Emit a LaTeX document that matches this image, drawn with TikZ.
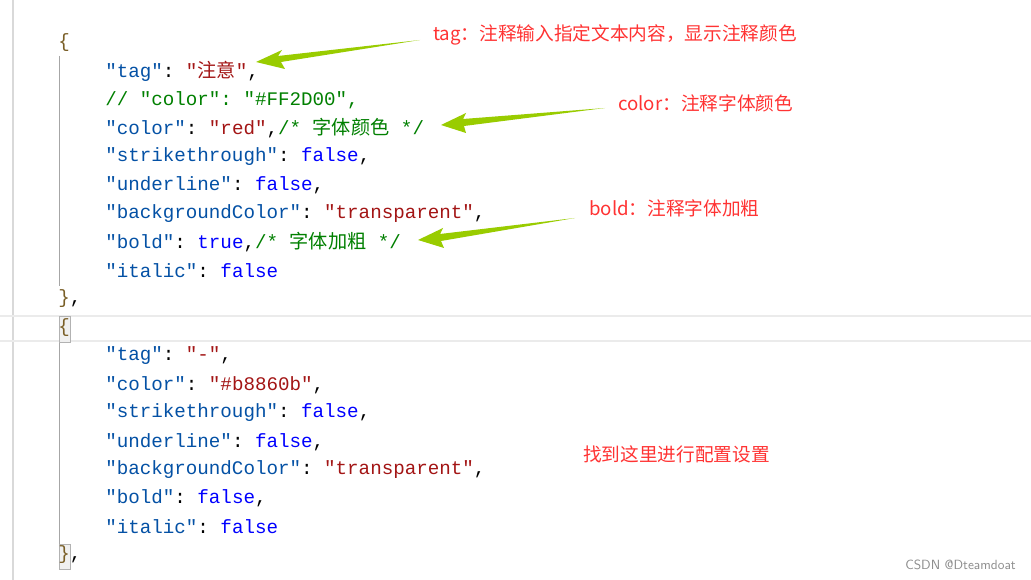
\documentclass[tikz,border=0pt]{standalone}
\usepackage{fontspec}
\setmonofont{Liberation Mono}
\newfontfamily\cjk{Noto Sans CJK SC}
\definecolor{keyblue}{HTML}{0451A5}
\definecolor{strred}{HTML}{A31515}
\definecolor{boolblue}{HTML}{0000FF}
\definecolor{cmtgreen}{HTML}{008000}
\definecolor{bracebrown}{HTML}{795E26}
\definecolor{noteRed}{HTML}{FF3333}
\definecolor{arrowgreen}{HTML}{99CC00}
\newcommand{\ky}[1]{\textcolor{keyblue}{"#1"}}
\newcommand{\st}[1]{\textcolor{strred}{"#1"}}
\newcommand{\bl}[1]{\textcolor{boolblue}{#1}}
\tikzset{
  code/.style={anchor=west, inner sep=0pt, font=\ttfamily\fontsize{14.4}{15}\selectfont},
  note/.style={anchor=west, inner sep=0pt, text=noteRed, font=\cjk\fontsize{14}{15}\selectfont},
  guide/.style={draw=black!35, line width=0.6pt},
  band/.style={draw=black!8, line width=2.2pt},
  bracebox/.style={draw=black!30, fill=black!6, line width=0.5pt}
}
\begin{document}
\begin{tikzpicture}[x=0.75pt, y=-0.75pt]
\fill[white] (0,0) rectangle (1031,580);
\useasboundingbox (0,0) rectangle (1031,580);

% gutter and separators
\draw[draw=black!15, line width=0.8pt] (13,0) -- (13,580);
\draw[band] (0,316) -- (1031,316);
\draw[band] (0,341) -- (1031,341);
\draw[guide] (59,56) -- (59,286);
\draw[guide] (59,343) -- (59,569);
\draw[bracebox] (59,316) rectangle (70,342);
\draw[bracebox] (59,544) rectangle (70,569);

% first block
\node[code] (o1) at (58,43) {\textcolor{bracebrown}{\{}};
\node[code] (tag1) at (105,71) {\ky{tag}: \textcolor{strred}{"{\cjk 注意}"},};
\node[code] (cm1) at (105,100) {\textcolor{cmtgreen}{// "color": "\#FF2D00",}};
\node[code] (col1) at (105,128) {\ky{color}: \st{red},\textcolor{cmtgreen}{/* {\cjk 字体颜色} */}};
\node[code] (sk1) at (105,157) {\ky{strikethrough}: \bl{false},};
\node[code] (ul1) at (105,185) {\ky{underline}: \bl{false},};
\node[code] (bg1) at (105,214) {\ky{backgroundColor}: \st{transparent},};
\node[code] (bd1) at (105,242) {\ky{bold}: \bl{true},\textcolor{cmtgreen}{/* {\cjk 字体加粗} */}};
\node[code] (it1) at (105,271) {\ky{italic}: \bl{false}};
\node[code] (c1) at (58,299) {\textcolor{bracebrown}{\}},};

% second block
\node[code] (o2) at (58,328) {\textcolor{bracebrown}{\{}};
\node[code] (tag2) at (105,356) {\ky{tag}: \st{-},};
\node[code] (col2) at (105,385) {\ky{color}: \st{\#b8860b},};
\node[code] (sk2) at (105,413) {\ky{strikethrough}: \bl{false},};
\node[code] (ul2) at (105,442) {\ky{underline}: \bl{false},};
\node[code] (bg2) at (105,470) {\ky{backgroundColor}: \st{transparent},};
\node[code] (bd2) at (105,498) {\ky{bold}: \bl{false},};
\node[code] (it2) at (105,527) {\ky{italic}: \bl{false}};
\node[code] (c2) at (58,555) {\textcolor{bracebrown}{\}},};

% notes
\node[note] (ntag) at (433,35) {tag：注释输入指定文本内容，显示注释颜色};
\node[note] (ncol) at (618,103) {color：注释字体颜色};
\node[note] (nbold) at (589,208) {bold：注释字体加粗};
\node[note] (nfind) at (583,454) {找到这里进行配置设置};
\node[anchor=east, inner sep=0pt, text=black!45, font=\fontsize{10}{11}\selectfont\sffamily] (mark) at (1016,565) {CSDN @Dteamdoat};

% arrows
\coordinate (a1) at (420,40);
\coordinate (a2) at (605,108);
\coordinate (a3) at (575,218);
\fill[arrowgreen] (a1) -- (278,56) -- (282,50) -- (256,62) -- (285,69) -- (281,62) -- cycle;
\fill[arrowgreen] (a2) -- (463,119) -- (466,113) -- (441,125) -- (466,133) -- (464,126) -- cycle;
\fill[arrowgreen] (a3) -- (440,234) -- (443,228) -- (418,240) -- (444,248) -- (441,241) -- cycle;
\end{tikzpicture}
\end{document}
